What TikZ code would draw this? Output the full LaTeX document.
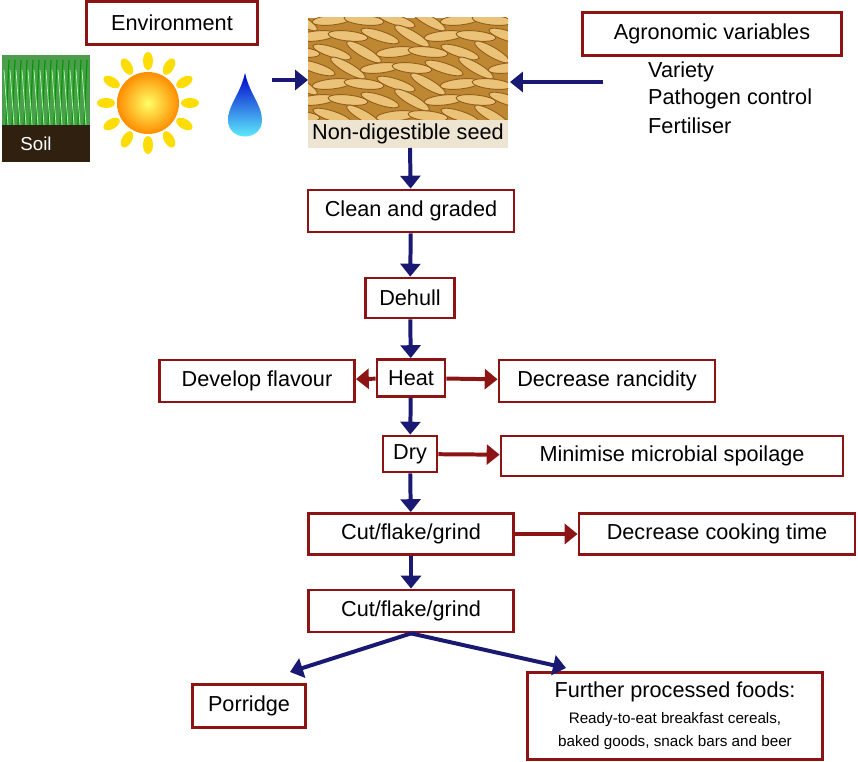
\documentclass[tikz,border=0pt]{standalone}
\usepackage{fontspec}
\setmainfont{Liberation Sans}
\usetikzlibrary{arrows.meta}
\definecolor{boxred}{RGB}{140,20,20}
\definecolor{arrblue}{RGB}{25,25,115}
\definecolor{seedgold}{RGB}{190,135,50}
\definecolor{seeddark}{RGB}{150,95,30}
\definecolor{seedlight}{RGB}{235,195,120}
\definecolor{beige}{RGB}{238,228,210}
\tikzset{
  box/.style={draw=boxred, line width=2.4pt, fill=white, inner sep=0pt, font=\fontsize{18.5}{20}\selectfont},
  blue arrow/.style={draw=arrblue, line width=3.4pt, -{Triangle[width=17pt,length=11pt]}},
  red arrow/.style={draw=boxred, line width=3.4pt, -{Triangle[width=17pt,length=11pt]}},
  plain/.style={font=\fontsize{18.5}{20}\selectfont, inner sep=0pt, anchor=west}
}
\begin{document}
\begin{tikzpicture}[x=0.03cm,y=-0.03cm]
\useasboundingbox (0,0) rectangle (858,762);

%Images
% soil
\fill[green!45!black!70] (2,55) rectangle (90,125);
\foreach \gx in {6,12,...,86} {
  \draw[green!60!black, line width=1pt] (\gx,125) -- (\gx+3,60);
  \draw[green!30!white, line width=0.6pt] (\gx+2,125) -- (\gx-2,70);
}
\fill[black!75!brown] (2,125) rectangle (90,162);
\node[font=\fontsize{16}{18}\selectfont, text=white] (soil) at (36,144) {Soil};
% sun
\foreach \a in {0,30,...,330}
  \fill[yellow!80!orange, rotate around={\a:(148,103)}] (190,103) ellipse (9 and 5);
\shade[inner color=yellow!60!white, outer color=orange!90!yellow] (148,103) circle (31);
% water drop
\shade[top color=blue!80!black, bottom color=cyan!60!white]
  (245,73) .. controls (250,95) and (262,105) .. (262,120)
  .. controls (262,142) and (228,142) .. (228,120)
  .. controls (228,105) and (240,95) .. (245,73) -- cycle;
% seeds
\fill[seedgold] (308,18) rectangle (508,120);
\begin{scope}
\clip (308,18) rectangle (508,120);
\foreach \row in {0,...,6} {
  \foreach \col in {0,...,6} {
    \pgfmathsetmacro{\sx}{300+\col*32+mod(\row,2)*16}
    \pgfmathsetmacro{\sy}{20+\row*16}
    \pgfmathsetmacro{\sa}{-30+mod(\row*7+\col*11,4)*12}
    \fill[seedlight, draw=seeddark, line width=0.8pt, rotate around={\sa:(\sx,\sy)}] (\sx,\sy) ellipse (20 and 5);
  }
}
\end{scope}
\fill[beige] (308,120) rectangle (508,148);
\node[font=\fontsize{18.5}{20}\selectfont] (seed) at (408,134) {Non-digestible seed};
\coordinate (seedL) at (308,80);
\coordinate (seedR) at (510,82);
\coordinate (seedB) at (410,148);

%Boxes
\node[box, minimum width=171*0.03cm, minimum height=43*0.03cm] (env) at (172,23) {Environment};
\node[box, minimum width=259*0.03cm, minimum height=43*0.03cm] (agro) at (712,34) {Agronomic variables};
\node[plain] (var) at (648,72) {Variety};
\node[plain] (path) at (648,99) {Pathogen control};
\node[plain] (fert) at (648,126) {Fertiliser};
\coordinate (water) at (272,80);
\coordinate (agroin) at (603,82);

\node[box, minimum width=206*0.03cm, minimum height=42*0.03cm] (clean) at (411,211) {Clean and graded};
\node[box, minimum width=89*0.03cm, minimum height=40*0.03cm] (dehull) at (410,298) {Dehull};
\node[box, minimum width=68*0.03cm, minimum height=37*0.03cm] (heat) at (411,378) {Heat};
\node[box, minimum width=195*0.03cm, minimum height=42*0.03cm] (flav) at (257,381) {Develop flavour};
\node[box, minimum width=216*0.03cm, minimum height=42*0.03cm] (ranc) at (607,381) {Decrease rancidity};
\node[box, minimum width=54*0.03cm, minimum height=36*0.03cm] (dry) at (410,454) {Dry};
\node[box, minimum width=342*0.03cm, minimum height=40*0.03cm] (micro) at (672,456) {Minimise microbial spoilage};
\node[box, minimum width=205*0.03cm, minimum height=41*0.03cm] (cut1) at (411,534) {Cut/flake/grind};
\node[box, minimum width=276*0.03cm, minimum height=41*0.03cm] (cook) at (717,534) {Decrease cooking time};
\node[box, minimum width=205*0.03cm, minimum height=42*0.03cm] (cut2) at (411,611) {Cut/flake/grind};
\node[box, minimum width=113*0.03cm, minimum height=43*0.03cm] (porr) at (249,706) {Porridge};
\node[box, minimum width=295*0.03cm, minimum height=87*0.03cm, align=center] (further) at (675,716)
  {Further processed foods:\\[2pt]{\fontsize{13}{16}\selectfont Ready-to-eat breakfast cereals,}\\{\fontsize{13}{16}\selectfont baked goods, snack bars and beer}};

%Arrows
\draw[blue arrow] (water) -- (seedL);
\draw[blue arrow] (agroin) -- (seedR);
\draw[blue arrow] (seedB) -- (clean);
\draw[blue arrow] (clean) -- (dehull);
\draw[blue arrow] (dehull) -- (heat);
\draw[blue arrow] (heat) -- (dry);
\draw[blue arrow] (dry) -- (cut1);
\draw[blue arrow] (cut1) -- (cut2);
\draw[blue arrow] (cut2.south) -- (290,672);
\draw[blue arrow] (cut2.south) -- (566,668);
\draw[red arrow] (heat) -- (flav);
\draw[red arrow] (heat) -- (ranc);
\draw[red arrow] (dry) -- (micro);
\draw[red arrow] (cut1) -- (cook);
\end{tikzpicture}
\end{document}
